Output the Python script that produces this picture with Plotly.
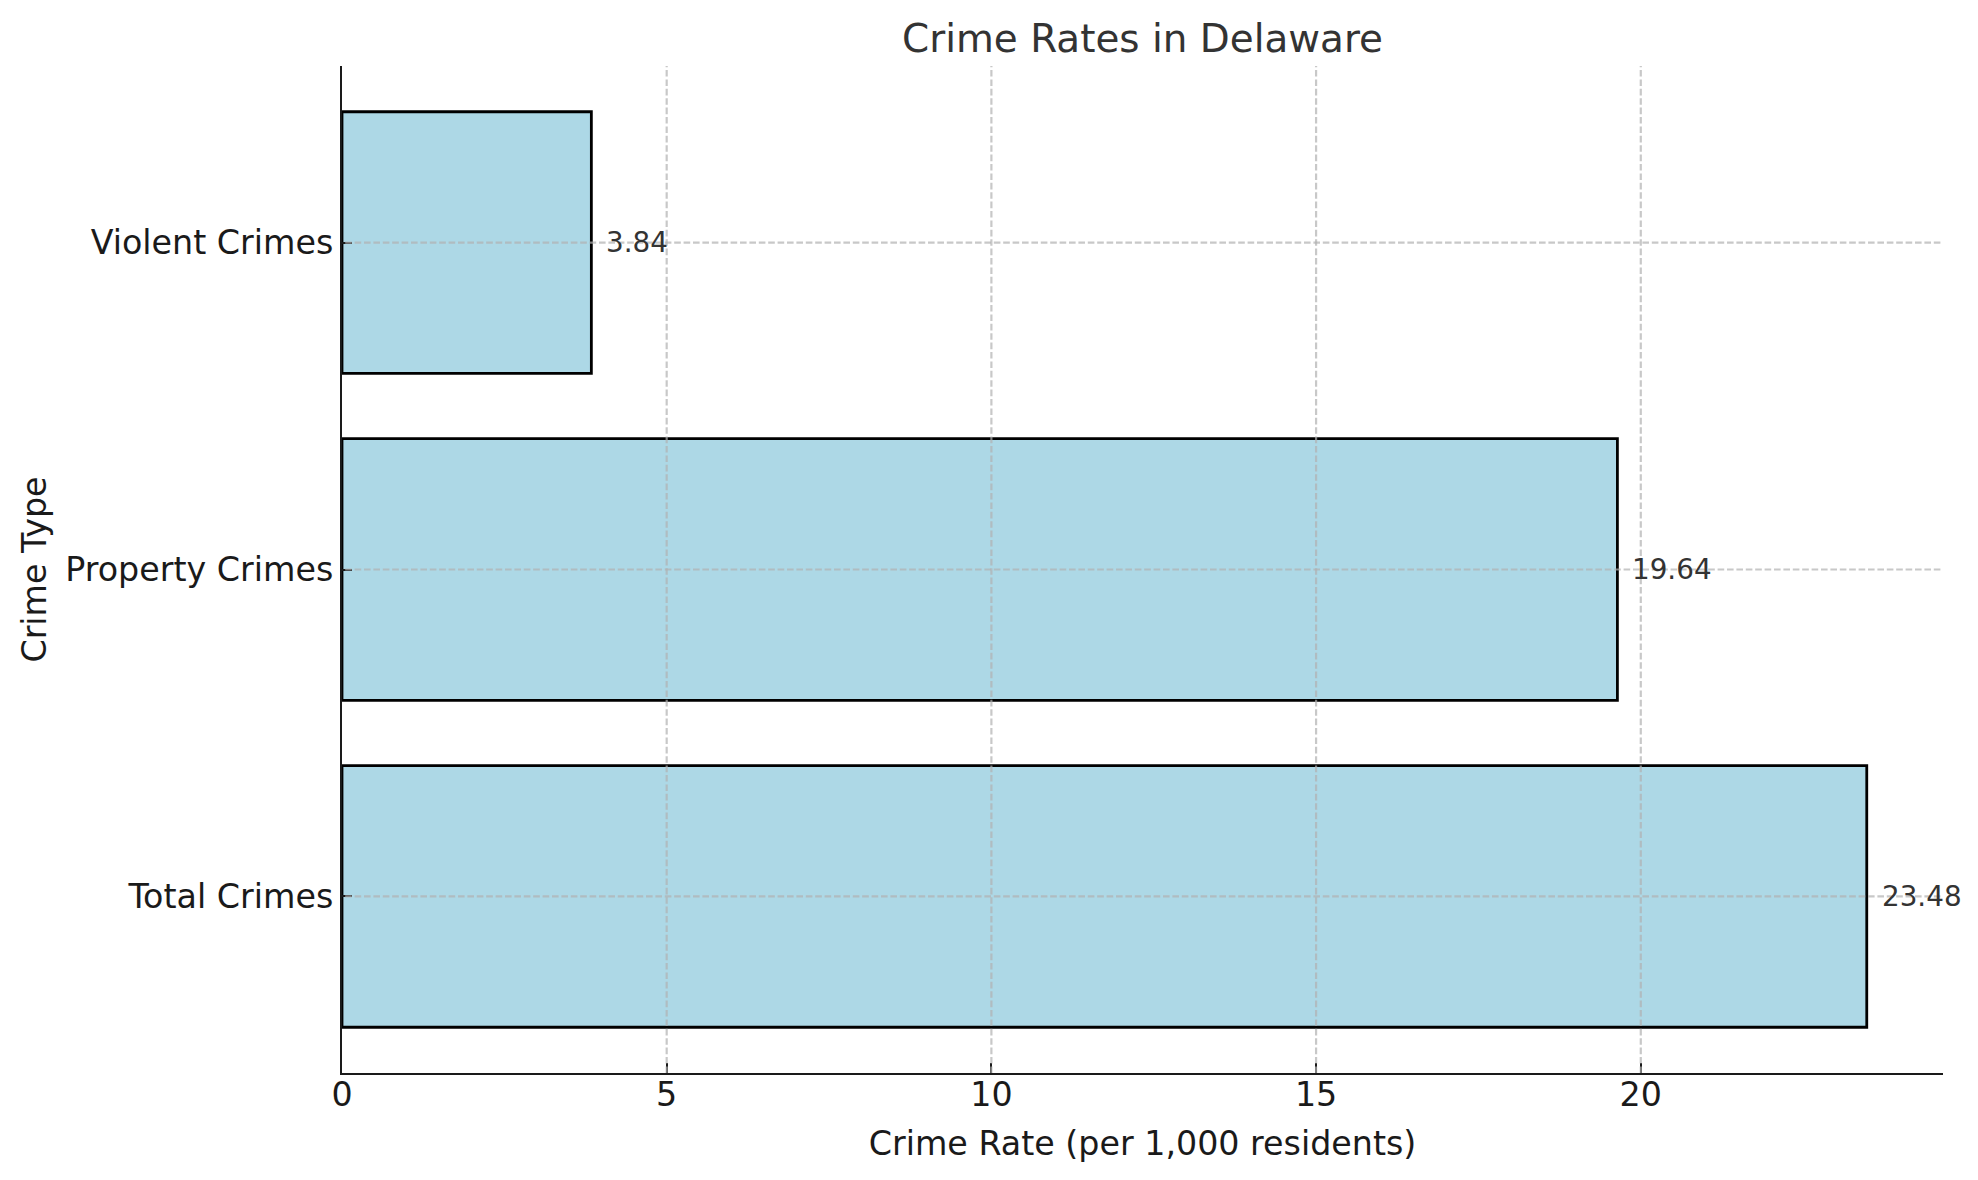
import plotly.graph_objects as go

categories = ["Total Crimes", "Property Crimes", "Violent Crimes"]
values = [23.48, 19.64, 3.84]
x_ticks = [0, 5, 10, 15, 20]

FONT = "DejaVu Sans"
W, H = 1978, 1180
OFF = 8  # default page body margin
L, R, T, B = 342 - OFF, 35 + OFF, 66 - OFF, 107 + OFF

fig = go.Figure()
fig.add_trace(go.Bar(
    x=values, y=categories, orientation="h",
    marker=dict(color="#ADD8E6", line=dict(color="black", width=2.8)),
    width=0.8, hoverinfo="x+y",
))

# value labels
for c, v in zip(categories, values):
    fig.add_annotation(x=v + 0.2, y=c, xref="x", yref="y", text=f"{v:.2f}",
                       showarrow=False, xanchor="left", yanchor="middle",
                       font=dict(family=FONT, size=27.8, color="#333333"))

# dashed grid drawn above bars (as in the reference); the one at x=0 sits under the spine
grid = dict(color="rgba(176,176,176,0.7)", width=2.2, dash="6.6px,2.8px")
for t in x_ticks[1:]:
    fig.add_shape(type="line", xref="x", yref="paper", x0=t, x1=t, y0=0, y1=1,
                  line=grid, layer="above")
for c in categories:
    fig.add_shape(type="line", xref="paper", yref="y", x0=0.002, x1=1, y0=c, y1=c,
                  line=grid, layer="above")

xmax = max(values) * 1.05
fig.update_layout(
    width=W, height=H,
    margin=dict(l=L, r=R, t=T, b=B, pad=0),
    plot_bgcolor="white", paper_bgcolor="white",
    font=dict(family=FONT, size=33.3, color="#1a1a1a"),
    showlegend=False,
    title=dict(text="Crime Rates in Delaware", x=0.5, xref="paper", xanchor="center",
               y=1 - (38 - OFF) / H, yref="container", yanchor="middle",
               font=dict(family=FONT, size=38.9, color="#333333")),
    xaxis=dict(range=[0, xmax], tickvals=x_ticks, ticktext=[str(t) for t in x_ticks],
               showgrid=False, zeroline=False, showline=True, linecolor="#1a1a1a",
               linewidth=2.2, ticks="inside", ticklen=10, tickwidth=2.2,
               tickcolor="#1a1a1a", layer="above traces",
               ticklabelstandoff=-9,
               tickfont=dict(family=FONT, size=33.3, color="#1a1a1a"),
               title=dict(text="Crime Rate (per 1,000 residents)", standoff=19,
                          font=dict(family=FONT, size=33.3, color="#1a1a1a"))),
    yaxis=dict(type="category", categoryorder="array", categoryarray=categories,
               range=[-0.54, 2.54], showgrid=False, zeroline=False, showline=True,
               linecolor="#1a1a1a", linewidth=2.2, ticks="inside", ticklen=10,
               tickwidth=2.2, tickcolor="#1a1a1a", layer="above traces",
               ticklabelstandoff=0,
               tickfont=dict(family=FONT, size=33.3, color="#1a1a1a"),
               title=dict(text="Crime Type", standoff=9,
                          font=dict(family=FONT, size=33.3, color="#1a1a1a"))),
    bargap=0.2,
)

fig.write_html("out.html")
